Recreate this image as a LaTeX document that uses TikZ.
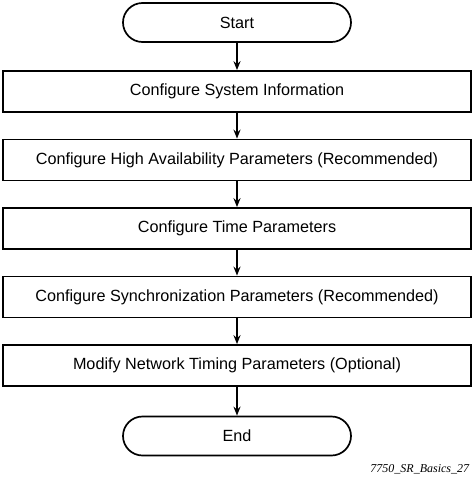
\documentclass[tikz,border=0pt]{standalone}
\usepackage{fontspec}
\setmainfont{Liberation Sans}
\newfontfamily\tagfont{Liberation Serif}
\usetikzlibrary{arrows.meta}
\usetikzlibrary{shapes.misc}
\tikzstyle{stepbox}=[draw,rectangle,minimum width=468pt,minimum height=41pt,inner sep=1pt,font=\fontsize{16.2}{19}\selectfont]
\tikzstyle{terminal}=[draw,rounded rectangle,minimum width=230pt,minimum height=39pt,inner sep=1pt,font=\fontsize{16.2}{19}\selectfont]
\begin{document}
\begin{tikzpicture}[x=1pt,y=-1pt,line width=1.7pt,>={Stealth[length=9pt,width=7pt]}]
\useasboundingbox (0,0) rectangle (474,477);
\node [terminal] (start) at (237,22.5) {Start};
\node [stepbox] (sys) at (237,91.5) {Configure System Information};
\node [stepbox] (ha) at (237,160) {Configure High Availability Parameters (Recommended)};
\node [stepbox] (time) at (237,228.5) {Configure Time Parameters};
\node [stepbox] (sync) at (237,297) {Configure Synchronization Parameters (Recommended)};
\node [stepbox] (net) at (237,365.5) {Modify Network Timing Parameters (Optional)};
\node [terminal] (end) at (237,436) {End};
\foreach \a/\b in {start/sys,sys/ha,ha/time,time/sync,sync/net,net/end}
  \draw [->] (\a) -- (\b);
\node [anchor=base east,font=\tagfont\itshape\fontsize{12}{14}\selectfont,inner sep=0pt] (tag) at (470,472) {7750\_SR\_Basics\_27};
\end{tikzpicture}
\end{document}
